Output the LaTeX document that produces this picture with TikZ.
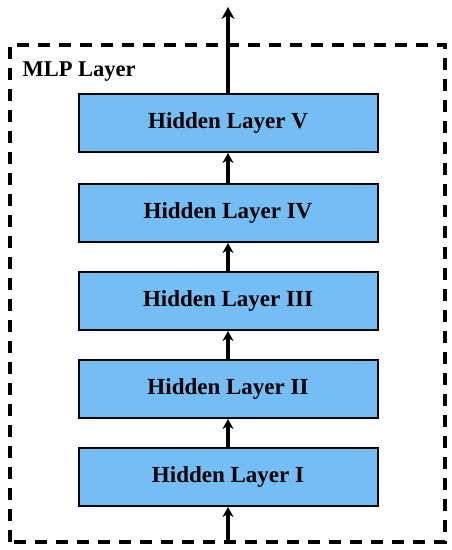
\documentclass[tikz,border=0pt]{standalone}
\usepackage{fontspec}
\setmainfont{Liberation Serif}
\usepackage{tikz}
\usetikzlibrary{positioning,arrows.meta}
\definecolor{layerblue}{RGB}{116,189,245}

\begin{document}
\begin{tikzpicture}[
  x=1pt, y=1pt,
  node distance=28pt,
  every node/.style={font=\bfseries},
  hidden/.style={rectangle, draw, line width=2pt, minimum width=299pt, minimum height=58pt, fill=layerblue, font=\fontsize{23}{27}\selectfont\bfseries},
  flow/.style={-{Stealth[length=10pt,width=11pt]}, line width=3.4pt}
  ]
\useasboundingbox (0,0) rectangle (452,550);

\draw[line width=3.8pt, dash pattern=on 12pt off 9pt] (10,8) rectangle (445,505);
\node[anchor=base west, font=\fontsize{22.5}{26}\selectfont\bfseries] (title) at (19,473) {MLP Layer};

\node[hidden] (h1) at (228,73) {Hidden Layer I};
\node[hidden, above=of h1] (h2) {Hidden Layer II};
\node[hidden, above=of h2] (h3) {Hidden Layer III};
\node[hidden, above=of h3] (h4) {Hidden Layer IV};
\node[hidden, above=30pt of h4] (h5) {Hidden Layer V};

\coordinate (in) at (228,8);
\coordinate (out) at (228,543);

\draw[flow] (in) -- (h1);
\draw[flow] (h1) -- (h2);
\draw[flow] (h2) -- (h3);
\draw[flow] (h3) -- (h4);
\draw[flow] (h4) -- (h5);
\draw[flow, line width=4.6pt, -{Stealth[length=12pt,width=13pt]}] (h5) -- (out);

\end{tikzpicture}
\end{document}
